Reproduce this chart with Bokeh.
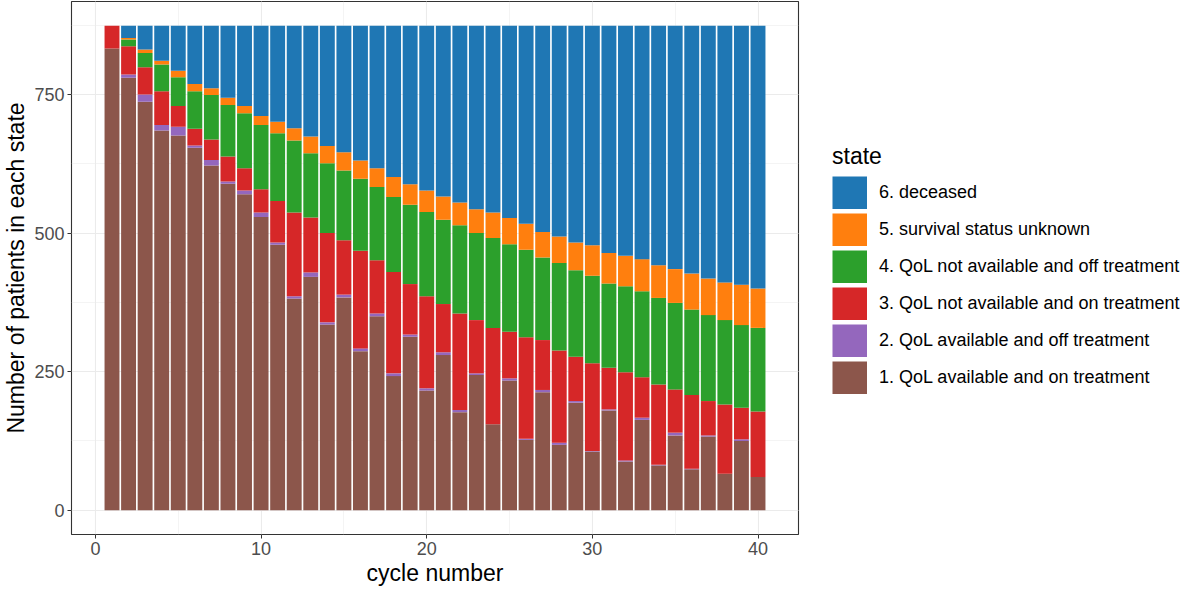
from bokeh.plotting import figure
from bokeh.layouts import row
from bokeh.models import (Range1d, SingleIntervalTicker, Legend, LegendItem,
                          ColumnDataSource)
from bokeh.embed import file_html
from bokeh.resources import INLINE

cycles = list(range(1, 41))
state_labels = ["1. QoL available and on treatment",
                "2. QoL available and off treatment",
                "3. QoL not available and on treatment",
                "4. QoL not available and off treatment",
                "5. survival status unknown",
                "6. deceased"]
colors = ["#8c564b", "#9467bd", "#d62728", "#2ca02c", "#ff7f0e", "#1f77b4"]

s1 = [833, 780, 737, 685, 676, 654, 622, 589, 570, 529, 479, 382, 421, 335, 384, 287, 350, 242, 313, 216,
      280, 177, 244, 155, 234, 127, 213, 118, 194, 106, 180, 88, 163, 81, 135, 74, 133, 66, 125, 60]
s2 = [0, 6, 13, 10, 16, 4, 10, 4, 7, 8, 4, 4, 8, 4, 5, 5, 5, 5, 4, 4,
      5, 4, 3, 0, 4, 2, 4, 4, 3, 1, 2, 2, 4, 1, 5, 1, 2, 0, 3, 0]
s3 = [41, 51, 49, 61, 37, 30, 37, 45, 40, 42, 75, 151, 99, 161, 98, 176, 96, 183, 91, 166,
      87, 174, 96, 174, 84, 183, 90, 166, 80, 158, 75, 159, 73, 145, 78, 133, 62, 125, 57, 118]
s4 = [0, 12, 26, 48, 52, 68, 80, 93, 99, 116, 122, 130, 116, 126, 126, 130, 132, 135, 143, 152,
      152, 159, 157, 162, 158, 158, 149, 158, 156, 158, 152, 155, 155, 156, 156, 154, 155, 152, 149, 151]
s5 = [0, 3, 6, 7, 12, 13, 12, 13, 13, 16, 21, 22, 30, 31, 33, 33, 34, 36, 37, 39,
      42, 41, 43, 46, 47, 47, 46, 48, 50, 55, 55, 55, 58, 59, 61, 65, 66, 68, 73, 71]
s6 = [0, 22, 43, 63, 81, 105, 113, 130, 145, 163, 173, 185, 200, 217, 228, 243, 257, 273, 286, 297,
      308, 319, 331, 337, 347, 357, 372, 380, 391, 396, 410, 415, 421, 432, 439, 447, 456, 463, 467, 474]

keys = ["s1", "s2", "s3", "s4", "s5", "s6"]
source = ColumnDataSource(dict(x=cycles, s1=s1, s2=s2, s3=s3, s4=s4, s5=s5, s6=s6))

totals = [sum(v) for v in zip(s1, s2, s3, s4, s5, s6)]
ymax = max(totals)
xlo, xhi = min(cycles) - 0.45, max(cycles) + 0.45
xpad = 0.05 * (xhi - xlo)
ypad = 0.05 * ymax

FONT = "Liberation Sans"
H = 588
W_MAIN = 802

p = figure(width=W_MAIN, height=H, output_backend="svg", toolbar_location=None,
           x_range=Range1d(xlo - xpad, xhi + xpad), y_range=Range1d(-ypad, ymax + ypad),
           min_border_left=70, min_border_right=4, min_border_top=1, min_border_bottom=50,
           background_fill_color="white", border_fill_color="white")

renderers = p.vbar_stack(keys, x="x", width=0.9, source=source, color=colors, line_color=None)

p.xaxis.ticker = SingleIntervalTicker(interval=10, num_minor_ticks=2)
p.yaxis.ticker = SingleIntervalTicker(interval=250, num_minor_ticks=2)

for ax in (p.xaxis[0], p.yaxis[0]):
    ax.axis_line_color = None
    ax.major_tick_line_color = "#333333"
    ax.major_tick_line_width = 1
    ax.major_tick_in = 0
    ax.major_tick_out = 4
    ax.minor_tick_line_color = None
    ax.major_label_text_font = FONT
    ax.major_label_text_font_size = "18px"
    ax.major_label_text_color = "#4d4d4d"
    ax.axis_label_text_font = FONT
    ax.axis_label_text_font_size = "23px"
    ax.axis_label_text_font_style = "normal"
    ax.axis_label_text_color = "black"
    ax.major_label_standoff = 3
    ax.axis_label_standoff = 2

p.xaxis.axis_label = "cycle number"
p.yaxis.axis_label = "Number of patients in each state"

for g in (p.xgrid[0], p.ygrid[0]):
    g.grid_line_color = "#ebebeb"
    g.grid_line_width = 1.1
    g.minor_grid_line_color = "#ebebeb"
    g.minor_grid_line_width = 0.55

p.outline_line_color = "#333333"
p.outline_line_width = 1.1

# legend panel: a second, axis-less figure holding only the legend;
# thick butt-capped lines give solid square swatches of exact size
q = figure(width=1184 - W_MAIN, height=H, output_backend="svg", toolbar_location=None,
           x_range=Range1d(1000, 1001), y_range=Range1d(-10, -9),
           min_border=0, background_fill_color="white", border_fill_color="white")
q.axis.visible = False
q.grid.visible = False
q.outline_line_color = None
swatches = [q.line(x="x", y=k, source=source, line_color=c, line_width=33, line_cap="butt")
            for k, c in zip(keys, colors)]

items = [LegendItem(label=state_labels[i], renderers=[swatches[i]]) for i in reversed(range(6))]
legend = Legend(items=items, title="state", location=(30, 140),
                glyph_width=35, glyph_height=33, label_height=33, spacing=4,
                label_text_font=FONT, label_text_font_size="18px", label_standoff=12,
                label_text_color="black",
                title_text_font=FONT, title_text_font_size="23px", title_text_font_style="normal",
                title_text_color="black",
                title_standoff=6, border_line_color=None, background_fill_alpha=0,
                margin=0, padding=10)
q.add_layout(legend)

layout = row(p, q)
open("out.html", "w").write(file_html(layout, INLINE))
